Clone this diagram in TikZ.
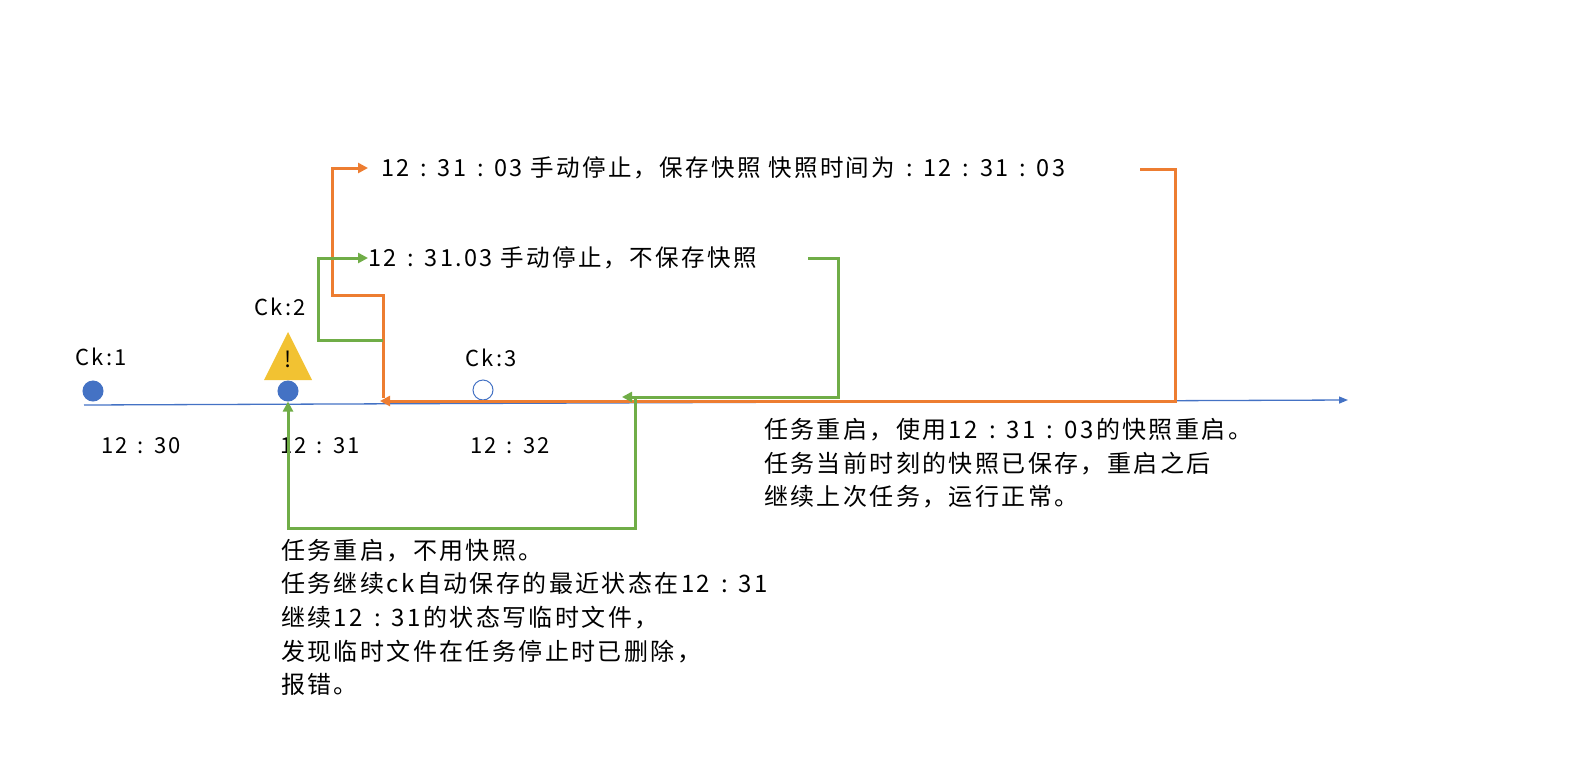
\documentclass[tikz,border=0pt]{standalone}
\usepackage{fontspec}
\setmainfont{Noto Sans CJK SC}[LetterSpace=10]
\usetikzlibrary{arrows.meta}
\definecolor{blu}{HTML}{4472C4}
\definecolor{org}{HTML}{ED7D31}
\definecolor{grn}{HTML}{70AD47}
\definecolor{ylw}{HTML}{F2C232}
\newcommand\fc{\makebox[1.2em][c]{:}}
\begin{document}
\begin{tikzpicture}[x=1pt,y=-1pt,
  txt/.style={font=\fontsize{23.5}{34}\selectfont,anchor=west,inner sep=0pt},
  lbl/.style={font=\fontsize{22}{34}\selectfont,anchor=center,inner sep=0pt},
  blk/.style={font=\fontsize{24}{33.6}\selectfont,anchor=north west,inner sep=0pt,align=left},
  opath/.style={draw=org,line width=3pt,-{Triangle[length=10pt,width=10pt]}},
  gpath/.style={draw=grn,line width=3pt,-{Triangle[length=10pt,width=10pt]}},
  dot/.style={circle,minimum size=20pt,inner sep=0pt,draw=blu,line width=1pt}]
\useasboundingbox (0,0) rectangle (1592,766);
\coordinate (tl0) at (84,405);
\coordinate (tl1) at (1348,400);
\draw[blu,line width=1.3pt,-{Triangle[length=9pt,width=7pt]}] (tl0) -- (tl1);
\node[dot,fill=blu] (c1) at (93,391) {};
\node[dot,fill=blu] (c2) at (288,391) {};
\node[dot,fill=white] (c3) at (483,390) {};
\fill[ylw] (288,332) -- (312,380) -- (264,380) -- cycle;
\node[font=\fontsize{22}{22}\selectfont] (ex) at (288,359) {!};
\node[lbl] (l1) at (101,357) {Ck:1};
\node[lbl] (l2) at (280,307) {Ck:2};
\node[lbl] (l3) at (491,358) {Ck:3};
\node[lbl] (t1) at (141,446) {12\fc30};
\node[lbl] (t2) at (320,446) {12\fc31};
\node[lbl] (t3) at (510,446) {12\fc32};
\node[txt] (a) at (381,168) {12\fc31\fc03 手动停止，保存快照 快照时间为\fc12\fc31\fc03};
\node[txt] (b) at (368,258) {12\fc31.03 手动停止，不保存快照};
\node[blk] (r) at (764,418) {任务重启，使用12\fc31\fc03的快照重启。\\任务当前时刻的快照已保存，重启之后\\继续上次任务，运行正常。};
\node[blk] (bt) at (281,539) {任务重启，不用快照。\\任务继续ck自动保存的最近状态在12\fc31\\继续12\fc31的状态写临时文件，\\发现临时文件在任务停止时已删除，\\报错。};
\coordinate (tip) at (380,401);
\draw[opath] (1140,169) -- (1175,169) -- (1175,401) -- (tip);
\draw[opath] (383,398) -- (383,295) -- (332,295) -- (332,168) -- (368,168);
\draw[gpath] (808,258) -- (838,258) -- (838,397) -- (622,397);
\draw[gpath] (635,397) -- (635,528) -- (288,528) -- (c2.south);
\draw[gpath] (383,340) -- (318,340) -- (318,258) -- (b.west);
\end{tikzpicture}
\end{document}
